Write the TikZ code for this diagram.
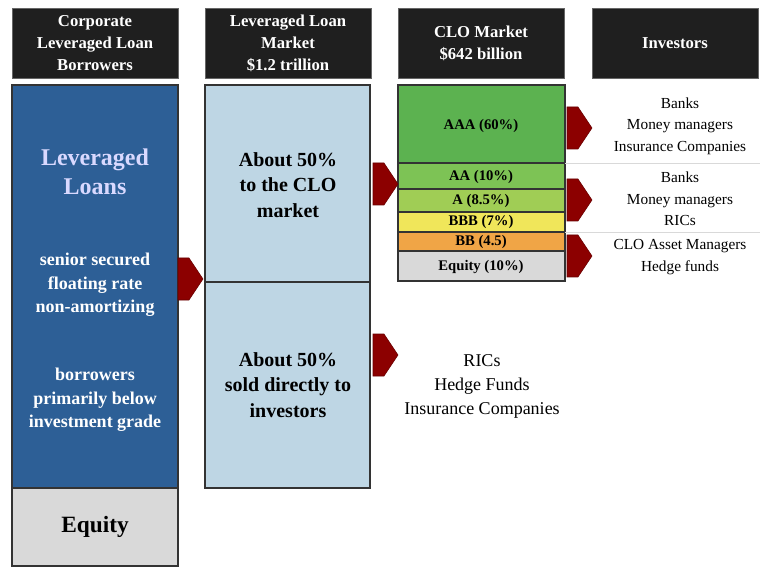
\documentclass[tikz,border=0pt]{standalone}
\usepackage{fontspec}
\setmainfont{Liberation Serif}
\begin{document}
\begin{tikzpicture}[x=0.75pt,y=-0.75pt,
 hdr/.style={fill=black!88,draw=black!60},
 chev/.style={fill=red!55!black,draw=red!40!black},
 bx/.style={draw=black!80,line width=0.8pt},
 t/.style={font=\bfseries,align=center,inner sep=0pt}]
\useasboundingbox (0,0) rectangle (768,574);
\fill[white] (0,0) rectangle (768,574);
% headers
\foreach \x/\n in {12/h1,205/h2,398/h3,592/h4}{\draw[hdr] (\x,8) rectangle (\x+166,78);}
\node[t,text=white,font=\bfseries\fontsize{12.5}{16.5}\selectfont] (t1) at (95,43) {Corporate\\Leveraged Loan\\Borrowers};
\node[t,text=white,font=\bfseries\fontsize{12.5}{16.5}\selectfont] (t2) at (288,43) {Leveraged Loan\\Market\\\$1.2 trillion};
\node[t,text=white,font=\bfseries\fontsize{12.5}{16.5}\selectfont] (t3) at (481,43) {CLO Market\\\$642 billion};
\node[t,text=white,font=\bfseries\fontsize{12.5}{16.5}\selectfont] (t4) at (675,43) {Investors};
% col1
\fill[fill={rgb,255:red,45;green,95;blue,150}] (12,85) rectangle (178,488);
\draw[bx] (12,85) rectangle (178,488);
\draw[bx,fill=black!15] (12,488) rectangle (178,566);
\node[t,text=blue!15,font=\bfseries\fontsize{18}{22}\selectfont] (l1) at (95,172) {Leveraged\\Loans};
\node[t,text=white,font=\bfseries\fontsize{13.5}{17.5}\selectfont] (l2) at (95,285) {senior secured\\floating rate\\non-amortizing};
\node[t,text=white,font=\bfseries\fontsize{13.5}{17.5}\selectfont] (l3) at (95,400) {borrowers\\primarily below\\investment grade};
\node[t,font=\bfseries\fontsize{17.5}{20}\selectfont] (eq) at (95,527) {Equity};
% col2
\draw[bx,fill={rgb,255:red,190;green,214;blue,228}] (205,85) rectangle (370,282);
\draw[bx,fill={rgb,255:red,190;green,214;blue,228}] (205,282) rectangle (370,488);
\node[t,font=\bfseries\fontsize{15}{19}\selectfont] (m1) at (288,185) {About 50\%\\to the CLO\\market};
\node[t,font=\bfseries\fontsize{15}{19}\selectfont] (m2) at (288,385) {About 50\%\\sold directly to\\investors};
% col3
\draw[bx,fill={rgb,255:red,92;green,178;blue,80}] (398,85) rectangle (565,163);
\draw[bx,fill={rgb,255:red,125;green,195;blue,85}] (398,163) rectangle (565,189);
\draw[bx,fill={rgb,255:red,160;green,205;blue,85}] (398,189) rectangle (565,212);
\draw[bx,fill={rgb,255:red,240;green,230;blue,90}] (398,212) rectangle (565,232);
\draw[bx,fill={rgb,255:red,240;green,165;blue,70}] (398,232) rectangle (565,251);
\draw[bx,fill=black!15] (398,251) rectangle (565,281);
\begin{scope}[every node/.style={t,font=\bfseries\fontsize{11}{12}\selectfont}]
\node (c1) at (481,126) {AAA (60\%)};
\node (c2) at (481,177) {AA (10\%)};
\node (c3) at (481,201) {A (8.5\%)};
\node (c4) at (481,222) {BBB (7\%)};
\node (c5) at (481,242) {BB (4.5)};
\node (c6) at (481,267) {Equity (10\%)};
\end{scope}
% separators col4
\draw[black!15] (565,163) -- (760,163);
\draw[black!15] (565,232) -- (760,232);
% investors text
\begin{scope}[every node/.style={align=center,inner sep=0pt,font=\fontsize{11.5}{16}\selectfont}]
\node (i1) at (680,126) {Banks\\Money managers\\Insurance Companies};
\node (i2) at (680,199) {Banks\\Money managers\\RICs};
\node (i3) at (680,257) {CLO Asset Managers\\Hedge funds};
\end{scope}
\node[align=center,inner sep=0pt,font=\fontsize{13.5}{18}\selectfont] (i4) at (482,386) {RICs\\Hedge Funds\\Insurance Companies};
% chevrons
\foreach \x/\y in {178/279,373/184,373/355,567/128,567/200,567/256}{
 \draw[chev] (\x,\y-21) -- (\x+11,\y-21) -- (\x+25,\y) -- (\x+11,\y+21) -- (\x,\y+21) -- cycle;}
\end{tikzpicture}
\end{document}
